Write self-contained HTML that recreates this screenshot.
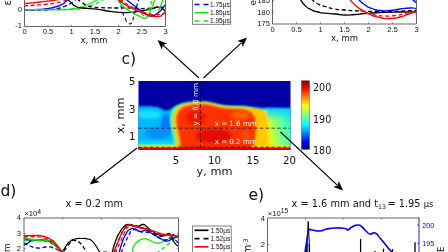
<!DOCTYPE html>
<html><head><meta charset="utf-8"><title>figure</title>
<style>
html,body{margin:0;padding:0;background:#fff;overflow:hidden}
svg{display:block}
.h{font-family:"Liberation Sans",sans-serif;font-size:7.6px;fill:#111}
.d{font-family:"DejaVu Sans","Liberation Sans",sans-serif;fill:#111}
</style></head><body>
<svg width="448" height="252" viewBox="0 0 448 252">
<defs>
<clipPath id="ca"><rect x="24.5" y="0" width="141" height="26.5"/></clipPath>
<clipPath id="cb"><rect x="272.5" y="0" width="144" height="24"/></clipPath>
<clipPath id="cd"><rect x="24" y="218" width="154.5" height="40"/></clipPath>
<clipPath id="ce"><rect x="267.5" y="218" width="151.5" height="40"/></clipPath>
<clipPath id="ch"><rect x="138.5" y="81" width="152" height="69"/></clipPath>
<filter id="bl" x="-20%" y="-20%" width="140%" height="140%"><feGaussianBlur stdDeviation="1.6"/></filter>
<filter id="bl2" x="-20%" y="-20%" width="140%" height="140%"><feGaussianBlur stdDeviation="1.3"/></filter>
<filter id="bl4" x="-20%" y="-20%" width="140%" height="140%"><feGaussianBlur stdDeviation="1.8"/></filter>
<filter id="bl5" x="-20%" y="-20%" width="140%" height="140%"><feGaussianBlur stdDeviation="1"/></filter>
<filter id="bl3" x="-20%" y="-50%" width="140%" height="200%"><feGaussianBlur stdDeviation="0.5"/></filter>
<linearGradient id="gr" gradientUnits="userSpaceOnUse" x1="261" y1="143" x2="296.5" y2="134.6">
<stop offset="0" stop-color="#ffa800"/>
<stop offset="0.2" stop-color="#ffe400"/>
<stop offset="0.36" stop-color="#c8ff38"/>
<stop offset="0.52" stop-color="#88ff78"/>
<stop offset="0.7" stop-color="#60ffa0"/>
<stop offset="0.86" stop-color="#38f4c8"/>
<stop offset="1" stop-color="#18dcf4"/>
</linearGradient>
<linearGradient id="gc" gradientUnits="userSpaceOnUse" x1="0" y1="108" x2="0" y2="121">
<stop offset="0" stop-color="#10d0ff" stop-opacity="1"/>
<stop offset="0.4" stop-color="#10d8ff" stop-opacity="0.7"/>
<stop offset="1" stop-color="#20e0f0" stop-opacity="0"/>
</linearGradient>
<linearGradient id="jet" x1="0" y1="1" x2="0" y2="0">
<stop offset="0" stop-color="#00008f"/>
<stop offset="0.11" stop-color="#0000ff"/>
<stop offset="0.36" stop-color="#00ffff"/>
<stop offset="0.5" stop-color="#80ff80"/>
<stop offset="0.64" stop-color="#ffff00"/>
<stop offset="0.89" stop-color="#ff0000"/>
<stop offset="1" stop-color="#800000"/>
</linearGradient>
</defs>
<rect width="448" height="252" fill="#fff"/>
<g clip-path="url(#ca)" fill="none"><path d="M24,3.6 C27.7,3.3 28,3.3 35,2.6 C42,1.9 38.3,2.2 45,1.4 C51.7,0.6 50,1 55,0.2 C60,-0.6 58.3,-0.6 60,-1" stroke="#f00" stroke-width="1.3"/><path d="M24,5.9 C27.7,5.7 28,5.7 35,5.2 C42,4.7 38.3,5.2 45,4.5 C51.7,3.8 49.3,4.2 55,3.2 C60.7,2.2 57.7,3 62,1.6 C66.3,0.2 66,-0.1 68,-1" stroke="#f00" stroke-width="1.3" stroke-dasharray="4 2.6"/><path d="M24,9.8 C27.7,9.7 28,9.9 35,9.6 C42,9.3 38.3,9.9 45,9 C51.7,8.1 49.3,8.6 55,7 C60.7,5.4 58.3,6.1 62,4.3 C65.7,2.5 64,3.3 66,1.5 C68,-0.3 67.3,-0.2 68,-1" stroke="#00f" stroke-width="1.3"/><path d="M24,9.9 C27.7,9.9 28,10 35,10 C42,10 37.3,10.5 45,10 C52.7,9.5 51.3,9.8 58,8.5 C64.7,7.2 60.3,8.2 65,6.2 C69.7,4.2 68.3,4.9 72,2.5 C75.7,0.1 74.7,0.2 76,-1" stroke="#00f" stroke-width="1.3" stroke-dasharray="4 2.6"/><path d="M24,9.5 C31,9.5 33,9.6 45,9.6 C57,9.6 50,9.9 60,9.5 C70,9.1 66.7,9.8 75,8.5 C83.3,7.2 78.3,8 85,5.5 C91.7,3 90.7,3.2 95,1 C99.3,-1.2 97,-0.3 98,-1" stroke="#00ee00" stroke-width="1.3"/><path d="M24,9.6 C32.7,9.6 34.7,9.7 50,9.7 C65.3,9.7 59.3,10.1 70,9.6 C80.7,9.1 74.7,9.7 82,8.2 C89.3,6.7 86,7.2 92,5 C98,2.8 96,3.5 100,1.5 C104,-0.5 102.7,-0.2 104,-1" stroke="#00ee00" stroke-width="1.3" stroke-dasharray="4 2.6"/><path d="M67,-1 C68.7,0.5 69,1 72,3.5 C75,6 72.7,5 76,6.5 C79.3,8 77.3,7.3 82,8 C86.7,8.7 84,8.1 90,8.6 C96,9.1 93.3,8.7 100,9.6 C106.7,10.5 103.3,10.5 110,11.4 C116.7,12.3 113.3,12.1 120,12.4 C126.7,12.7 123.3,12.9 130,12.4 C136.7,11.9 133.3,12.1 140,11 C146.7,9.9 144,10.5 150,9.2 C156,7.9 154,7.4 158,7.2 C162,7 159.7,7.2 162,8.5 C164.3,9.8 164,10.2 165,11" stroke="#000" stroke-width="1.3"/><path d="M77,-1 C78.7,0.2 79,0.5 82,2.5 C85,4.5 82.7,3.5 86,5 C89.3,6.5 87.3,6.1 92,7 C96.7,7.9 92.3,7.3 100,7.6 C107.7,7.9 105,7.9 115,8 C125,8.1 120,7.8 130,8 C140,8.2 136.7,8.7 145,8.5 C153.3,8.3 150,8.2 155,7.5 C160,6.8 156.7,6 160,6.5 C163.3,7 163.3,8.2 165,9" stroke="#000" stroke-width="1.3" stroke-dasharray="4 2.6"/><path d="M117,-1 C118.7,1 118.3,1.3 122,5 C125.7,8.7 124.3,7.3 128,10 C131.7,12.7 129,10.8 133,13 C137,15.2 135.7,14.8 140,16.5 C144.3,18.2 142.7,19.5 146,18 C149.3,16.5 147,18.3 150,12 C153,5.7 153.3,3.3 155,-1" stroke="#00ee00" stroke-width="1.3"/><path d="M119,-1 C121,0.8 120.7,1.3 125,4.5 C129.3,7.7 127,5.8 132,8.5 C137,11.2 135.3,9.8 140,12.5 C144.7,15.2 143,17.3 146,16.5 C149,15.7 147,15.8 149,10 C151,4.2 151,2.7 152,-1" stroke="#00ee00" stroke-width="1.3" stroke-dasharray="4 2.6"/><path d="M158,12 C159,9.7 159.3,9.3 161,5 C162.7,0.7 162.3,1 163,-1" stroke="#00ee00" stroke-width="1.3"/><path d="M119.5,-1 C120.3,2.7 120.2,3.7 122,10 C123.8,16.3 123,13.8 125,18 C127,22.2 125.7,21 128,22.5 C130.3,24 130,25 132,22.5 C134,20 132.3,20.8 134,15 C135.7,9.2 135.3,10.3 137,5 C138.7,-0.3 138.3,1 139,-1" stroke="#00f" stroke-width="1.2" stroke-dasharray="4 2.6"/><path d="M125.7,-1 C127.8,0.7 127.2,0.3 132,4 C136.8,7.7 134.7,6.3 140,10 C145.3,13.7 144,13 148,15 C152,17 148.7,16.7 152,16 C155.3,15.3 154.7,15.3 158,13 C161.3,10.7 159.7,11.7 162,9 C164.3,6.3 164,6.3 165,5" stroke="#00f" stroke-width="1.3"/><path d="M118,-1 C120,0.7 119.3,1 124,4 C128.7,7 126.7,5.3 132,8 C137.3,10.7 134,9.5 140,12 C146,14.5 144,14 150,15.5 C156,17 154,16.7 158,16.5 C162,16.3 159.7,16.5 162,15 C164.3,13.5 164,13 165,12" stroke="#f00" stroke-width="1.3"/><path d="M120,-1 C123.3,1.3 123.3,2.2 130,6 C136.7,9.8 133.3,7.8 140,10.5 C146.7,13.2 144,12.7 150,14 C156,15.3 153,14.8 158,14.5 C163,14.2 162.7,13.5 165,13" stroke="#f00" stroke-width="1.3" stroke-dasharray="4 2.6"/></g>
<path d="M24.5,0V26.5H165.5V0" fill="none" stroke="#666" stroke-width="1"/>
<path d="M24.5,26.5v-1.6M48,26.5v-1.6M71.5,26.5v-1.6M95,26.5v-1.6M118.5,26.5v-1.6M142,26.5v-1.6M165.5,26.5v-1.6M24.5,9.5h1.6M165.5,9.5h-1.6" stroke="#666" stroke-width="0.8" fill="none"/>
<text class="h" x="24.5" y="34" text-anchor="middle">0</text>
<text class="h" x="48" y="34" text-anchor="middle">0.5</text>
<text class="h" x="71.5" y="34" text-anchor="middle">1</text>
<text class="h" x="95" y="34" text-anchor="middle">1.5</text>
<text class="h" x="118.5" y="34" text-anchor="middle">2</text>
<text class="h" x="142" y="34" text-anchor="middle">2.5</text>
<text class="h" x="165.5" y="34" text-anchor="middle">3</text>
<text class="h" x="22" y="11.8" text-anchor="end">0</text>
<text class="h" x="22" y="28.2" text-anchor="end">-1</text>
<text class="d" x="94" y="43" text-anchor="middle" font-size="8.5">x, mm</text>
<text class="d" transform="translate(11,5.5) rotate(-90)" font-size="10">ε</text>
<rect x="192.5" y="-3" width="38" height="27.3" fill="#fff" stroke="#777" stroke-width="0.9"/>
<path d="M194.5,4.5H208.5" stroke="#00f" stroke-width="1.5" stroke-dasharray="5 4"/>
<text class="h" style="font-size:6.5px" x="210" y="6.8">1.75μs</text>
<path d="M194.5,12.7H208.5" stroke="#00ee00" stroke-width="1.5"/>
<text class="h" style="font-size:6.5px" x="210" y="15">1.85μs</text>
<path d="M194.5,21H208.5" stroke="#00ee00" stroke-width="1.5" stroke-dasharray="5 4"/>
<text class="h" style="font-size:6.5px" x="210" y="23.3">1.95μs</text>
<g clip-path="url(#cb)" fill="none"><path d="M300,-1 C301.7,1.2 301.3,2 305,5.5 C308.7,9 306.7,7.3 311,9.5 C315.3,11.7 313.3,10.8 318,12 C322.7,13.2 319.3,12.5 325,13.2 C330.7,13.9 328.3,13.4 335,14 C341.7,14.6 338.3,14.8 345,15 C351.7,15.2 348.3,15 355,14.5 C361.7,14 356.7,14.2 365,13.5 C373.3,12.8 368.3,13 380,12.5 C391.7,12 388,12.2 400,12 C412,11.8 410.7,12 416,12" stroke="#000" stroke-width="1.3"/><path d="M311.4,-1 C313.6,0.7 313.5,1.5 318,4 C322.5,6.5 319.3,4.8 325,6.5 C330.7,8.2 328.3,7.8 335,9 C341.7,10.2 336.7,9.3 345,10 C353.3,10.7 350,10.5 360,11 C370,11.5 365,11.3 375,11.5 C385,11.7 380,11.7 390,11.5 C400,11.3 396.3,11.3 405,11 C413.7,10.7 412.3,10.7 416,10.5" stroke="#000" stroke-width="1.3" stroke-dasharray="4 2.6"/><path d="M349.6,-1 C351.4,1 350.9,1.3 355,5 C359.1,8.7 357,6.8 362,10 C367,13.2 364,12 370,14.5 C376,17 373.3,16.2 380,17.5 C386.7,18.8 383.3,18.7 390,18.5 C396.7,18.3 393.3,18.7 400,17 C406.7,15.3 404.7,15 410,13.5 C415.3,12 414,12.8 416,12.5" stroke="#f00" stroke-width="1.3"/><path d="M360,10 C362.3,11 362,11.3 367,13 C372,14.7 369,14 375,15 C381,16 378.3,15.8 385,16 C391.7,16.2 388.3,16.3 395,15.5 C401.7,14.7 398,15 405,13.5 C412,12 412.3,11.8 416,11" stroke="#f00" stroke-width="1.3" stroke-dasharray="4 2.6"/><path d="M358,-1 C360.3,1 360.3,1.8 365,5 C369.7,8.2 367,6.7 372,8.5 C377,10.3 374,9.8 380,10.5 C386,11.2 383.3,11 390,10.5 C396.7,10 393.3,9.8 400,9 C406.7,8.2 404.7,8.2 410,8 C415.3,7.8 414,8.3 416,8.5" stroke="#00f" stroke-width="1.3"/><path d="M412,-1 C412.7,-0.3 412.7,-0.2 414,1 C415.3,2.2 415.3,2 416,2.5" stroke="#00f" stroke-width="1.3"/></g>
<path d="M272.5,0V24H416.5V0" fill="none" stroke="#666" stroke-width="1"/>
<path d="M272.5,24v-1.6M296.5,24v-1.6M320.5,24v-1.6M344.5,24v-1.6M368.5,24v-1.6M392.5,24v-1.6M416.5,24v-1.6M272.5,12.2h1.6M416.5,12.2h-1.6M272.5,0.5h1.6M416.5,0.5h-1.6" stroke="#666" stroke-width="0.8" fill="none"/>
<text class="h" x="272.5" y="31.5" text-anchor="middle">0</text>
<text class="h" x="296.5" y="31.5" text-anchor="middle">0.5</text>
<text class="h" x="320.5" y="31.5" text-anchor="middle">1</text>
<text class="h" x="344.5" y="31.5" text-anchor="middle">1.5</text>
<text class="h" x="368.5" y="31.5" text-anchor="middle">2</text>
<text class="h" x="392.5" y="31.5" text-anchor="middle">2.5</text>
<text class="h" x="416.5" y="31.5" text-anchor="middle">3</text>
<text class="h" x="270" y="3" text-anchor="end">185</text>
<text class="h" x="270" y="14.5" text-anchor="end">180</text>
<text class="h" x="270" y="26.2" text-anchor="end">175</text>
<text class="d" x="344.5" y="41" text-anchor="middle" font-size="8.5">x, mm</text>
<text class="d" transform="translate(256,5.5) rotate(-90)" font-size="9">e,</text>
<text class="d" x="121.5" y="64" font-size="15.5">c)</text>
<text class="d" x="0.5" y="195.5" font-size="15.5">d)</text>
<text class="d" x="248.5" y="200" font-size="15.5">e)</text>
<g clip-path="url(#ch)">
<rect x="138" y="81" width="153" height="69" fill="#0000a4"/>
<g filter="url(#bl5)">
<path d="M130,107 C150,105.5 158,106 162,109 C166,112.5 170,109.5 176,106.5 L240,106.5 C262,107.5 275,109 300,109 L300,160 L130,160Z" fill="#00b8ff"/>
</g>
<g filter="url(#bl)">
<ellipse cx="149" cy="114.5" rx="12" ry="4.5" fill="#18e0ff"/>
<ellipse cx="166.5" cy="125" rx="5.5" ry="11" fill="#0078ff"/>
<ellipse cx="158" cy="133" rx="13" ry="6" fill="#0090ff"/>
<rect x="134" y="141" width="40" height="5" fill="#10d8ff"/>
<rect x="256" y="110" width="44" height="45" fill="url(#gr)"/>
<rect x="266" y="108.5" width="40" height="16" fill="url(#gc)"/>
</g>
<g filter="url(#bl2)">
<path d="M172.5,150 C175,143 173,136 171,128 C169.5,122 169.5,117 171.5,111.5 C174,102.5 190,101 206,101.5 C214,102.5 222,106 232,106 C246,106 252,106.5 256,112 L256,150Z" fill="#60ffa0"/>
</g>
<g filter="url(#bl5)">
<path d="M175.5,150 C178,143 176,136 174,128 C172.5,122 172.5,117 174.5,112 C177,103 192,102 206,102.5 C214,103.5 222,107 232,107 C250,107 261,107.5 265,113.5 C269,120 268,135 267,150Z" fill="#ffc800"/>
</g>
<g filter="url(#bl2)">
<path d="M179.5,150 C181.5,143 179.5,136 177.5,128 C176,122 176,117 178,113 C180.5,105 194,104 206,104.5 C214,105.5 222,109 232,109 C244,109 251,110 254,116 C257,123 256,136 253,150Z" fill="#ff3000"/>
</g>
<g filter="url(#bl)">
<ellipse cx="214" cy="136" rx="18" ry="7" fill="#e00c00"/>
<ellipse cx="196" cy="117" rx="10" ry="7" fill="#f01800"/>
<ellipse cx="240" cy="115" rx="10" ry="4" fill="#ff6000"/>
<ellipse cx="246" cy="136" rx="5" ry="6" fill="#ff4800"/>
</g>
<g filter="url(#bl3)">
<rect x="130" y="144.3" width="45" height="1.5" fill="#80ff80" opacity="0.8"/>
<rect x="130" y="145.5" width="47" height="2.2" fill="#ffd800"/>
<rect x="177" y="145.5" width="4" height="2.2" fill="#ff9000"/>
<rect x="181" y="145.5" width="70" height="2.2" fill="#f82800"/>
<rect x="251" y="145.5" width="6" height="2.2" fill="#ff9000"/>
<rect x="257" y="145.5" width="43" height="2.2" fill="#ffd800"/>
<rect x="130" y="147.6" width="170" height="6" fill="#d80000"/>
</g>
</g>
<path d="M138,128.2H290" stroke="#222" stroke-width="0.8" stroke-dasharray="3.6 2.2" fill="none"/>
<path d="M138,147.3H290" stroke="#222" stroke-width="0.9" stroke-dasharray="3.6 2.2" fill="none"/>
<path d="M200.5,81V150" stroke="#111" stroke-width="0.9" stroke-dasharray="3.6 2.2" fill="none"/>
<text class="d" x="214.7" y="125.5" font-size="7.1" style="fill:#fff">x = 1.6 mm</text>
<text class="d" x="214.7" y="144" font-size="7.1" style="fill:#fff">x = 0.2 mm</text>
<text class="d" transform="translate(198.3,125.5) rotate(-90)" font-size="7.2" style="fill:#fff">y = 8.0 mm</text>
<text class="d" x="176" y="164.2" font-size="10.2" text-anchor="middle">5</text>
<text class="d" x="214.5" y="164.2" font-size="10.2" text-anchor="middle">10</text>
<text class="d" x="253" y="164.2" font-size="10.2" text-anchor="middle">15</text>
<text class="d" x="289.5" y="164.2" font-size="10.2" text-anchor="middle">20</text>
<text class="d" x="135.5" y="85.2" font-size="10.2" text-anchor="end">5</text>
<text class="d" x="135.5" y="112.7" font-size="10.2" text-anchor="end">3</text>
<text class="d" x="135.5" y="140.2" font-size="10.2" text-anchor="end">1</text>
<text class="d" x="214.5" y="175" font-size="11.3" text-anchor="middle">y, mm</text>
<text class="d" transform="translate(124.4,115.5) rotate(-90)" font-size="11.3" text-anchor="middle">x, mm</text>
<rect x="301.5" y="80.8" width="8" height="68.6" fill="url(#jet)" stroke="#333" stroke-width="0.4"/>
<text class="d" x="313" y="90.8" font-size="9.6">200</text>
<text class="d" x="313" y="122.8" font-size="9.6">190</text>
<text class="d" x="313" y="153.7" font-size="9.6">180</text>
<path d="M199,78L163,45.1" stroke="#000" stroke-width="1.15" fill="none"/><path d="M157.5,40L167.2,43.5L162.9,44.9L161.8,49.4Z" fill="#000"/>
<path d="M203.5,78L241.5,42.6" stroke="#000" stroke-width="1.15" fill="none"/><path d="M247,37.5L242.8,46.9L241.7,42.5L237.3,41Z" fill="#000"/>
<path d="M137,148L95.6,180" stroke="#000" stroke-width="1.15" fill="none"/><path d="M89.7,184.6L94.8,175.6L95.5,180.1L99.7,181.9Z" fill="#000"/>
<path d="M280.5,132L337.5,185.4" stroke="#000" stroke-width="1.15" fill="none"/><path d="M343,190.5L333.3,186.9L337.7,185.5L338.8,181.1Z" fill="#000"/>
<g clip-path="url(#cd)" fill="none"><path d="M24,245 C25.3,244.3 25.3,244.5 28,243 C30.7,241.5 28,241.5 32,240.5 C36,239.5 34.7,239.8 40,240 C45.3,240.2 43.3,239.5 48,241 C52.7,242.5 50,241.5 54,244.5 C58,247.5 57.3,247.2 60,250 C62.7,252.8 61.3,252 62,253" stroke="#000" stroke-width="1.3"/><path d="M62,253 C63.3,250.7 63.3,249.8 66,246 C68.7,242.2 67,243.8 70,241.5 C73,239.2 71,240 75,239 C79,238 77.7,238.5 82,238.5 C86.3,238.5 84.7,238.2 88,239 C91.3,239.8 89.3,238.7 92,241 C94.7,243.3 93.3,242 96,246 C98.7,250 98.7,250.7 100,253" stroke="#000" stroke-width="1.2"/><path d="M24,240.5 C26,240.3 24.7,240.1 30,240 C35.3,239.9 33.3,239.6 40,240.3 C46.7,241 44,239.4 50,242 C56,244.6 54,244.3 58,248 C62,251.7 60.7,251.3 62,253" stroke="#000" stroke-width="1.3" stroke-dasharray="4 2.6"/><path d="M64,251 C66,248.3 66.3,246.5 70,243 C73.7,239.5 71.7,240.5 75,240.5 C78.3,240.5 77,240.5 80,243 C83,245.5 81.7,244.7 84,248 C86.3,251.3 86,251.3 87,253" stroke="#000" stroke-width="1.3" stroke-dasharray="4 2.6"/><path d="M24,242.7 C26,243.8 25.3,244.2 30,246 C34.7,247.8 32.7,247.7 38,248 C43.3,248.3 41.3,247.2 46,247 C50.7,246.8 48,246.5 52,247.5 C56,248.5 54.7,248.2 58,250 C61.3,251.8 60.7,252 62,253" stroke="#00f" stroke-width="1.3" stroke-dasharray="4 2.6"/><path d="M24,238 C26,238.7 23,239.3 30,240 C37,240.7 37.7,239.3 45,240 C52.3,240.7 47.7,239.7 52,242 C56.3,244.3 54.3,243.3 58,247 C61.7,250.7 61.3,251 63,253" stroke="#00f" stroke-width="1.3"/><path d="M24,237 C26,237.7 24.7,238 30,239 C35.3,240 34,239.5 40,240 C46,240.5 43.3,239.2 48,240.5 C52.7,241.8 50,240.8 54,244 C58,247.2 57.3,247 60,250 C62.7,253 61.3,252 62,253" stroke="#00ee00" stroke-width="1.3"/><path d="M24,240 C26,240.3 24.7,240.7 30,241 C35.3,241.3 33.3,240.3 40,241 C46.7,241.7 44,240.3 50,243 C56,245.7 54.3,245.7 58,249 C61.7,252.3 60,251.7 61,253" stroke="#00ee00" stroke-width="1.3" stroke-dasharray="4 2.6"/><path d="M24,235.6 C27.7,235.6 29,235.4 35,235.5 C41,235.6 37,234.8 42,236 C47,237.2 45.3,236.3 50,239 C54.7,241.7 52,239.3 56,244 C60,248.7 60,250 62,253" stroke="#f00" stroke-width="1.3"/><path d="M24,236.5 C27.7,236.6 28.3,236.3 35,236.8 C41.7,237.3 38.3,236.3 44,238 C49.7,239.7 47.3,238.7 52,242 C56.7,245.3 55,244.3 58,248 C61,251.7 60,251.3 61,253" stroke="#f00" stroke-width="1.3" stroke-dasharray="4 2.6"/><path d="M132.4,253 C132.9,250.7 132.1,249.8 134,246 C135.9,242.2 135,243.8 138,241.5 C141,239.2 139.7,239.7 143,239 C146.3,238.3 144.7,238.5 148,239.5 C151.3,240.5 149.7,240.8 153,242 C156.3,243.2 154.7,243.2 158,243 C161.3,242.8 159.7,242.8 163,241.5 C166.3,240.2 164.3,240.5 168,239 C171.7,237.5 170.7,238.2 174,237 C177.3,235.8 176.7,236 178,235.5" stroke="#00ee00" stroke-width="1.3"/><path d="M156,253 C157.7,252 157.7,252.3 161,250 C164.3,247.7 162.3,249 166,246 C169.7,243 168,244.2 172,241 C176,237.8 176,238 178,236.5" stroke="#00ee00" stroke-width="1.3" stroke-dasharray="4 2.6"/><path d="M119,253 C120,249.7 119.7,249.3 122,243 C124.3,236.7 123.3,238.5 126,234 C128.7,229.5 127,231.2 130,229.5 C133,227.8 131.7,228.3 135,229 C138.3,229.7 136.3,231 140,231.5 C143.7,232 142,229.8 146,230.5 C150,231.2 147.3,231 152,233.5 C156.7,236 155.3,235.5 160,238 C164.7,240.5 162,240.7 166,241 C170,241.3 168,240.5 172,239 C176,237.5 176,237.3 178,236.5" stroke="#00f" stroke-width="1.3"/><path d="M121,253 C122.3,249.7 122.3,249 125,243 C127.7,237 126.7,239.2 129,235 C131.3,230.8 129.3,232.2 132,230.5 C134.7,228.8 133.7,229.5 137,230 C140.3,230.5 137.7,231 142,232 C146.3,233 144.7,231.2 150,233 C155.3,234.8 153,235.2 158,237.5 C163,239.8 161,239.8 165,240 C169,240.2 166.7,238 170,238 C173.3,238 172.3,238.3 175,240 C177.7,241.7 177,242 178,243" stroke="#00f" stroke-width="1.3" stroke-dasharray="4 2.6"/><path d="M112,253 C113.3,248.7 113.3,247 116,240 C118.7,233 117.3,236.5 120,232 C122.7,227.5 121.3,229 124,226.5 C126.7,224 125,224.7 128,224.5 C131,224.3 129.7,225.3 133,226 C136.3,226.7 134.7,227 138,226.5 C141.3,226 140,224.3 143,224.5 C146,224.7 144,224.8 147,227 C150,229.2 148.3,228.5 152,231 C155.7,233.5 153.7,233 158,234.5 C162.3,236 161,235.7 165,235.5 C169,235.3 167,231.8 170,234 C173,236.2 171.3,238 174,242 C176.7,246 176.7,244.7 178,246" stroke="#000" stroke-width="1.3"/><path d="M114,253 C116,247.7 116.3,245.3 120,237 C123.7,228.7 121.7,232 125,228 C128.3,224 125,225.3 130,225 C135,224.7 133.3,225 140,227 C146.7,229 143.3,228 150,231 C156.7,234 153.3,235 160,236 C166.7,237 164,233.3 170,234 C176,234.7 175.3,236.7 178,238" stroke="#000" stroke-width="1.3" stroke-dasharray="4 2.6"/><path d="M113.5,253 C115,249.3 115.2,248.7 118,242 C120.8,235.3 119.3,238 122,233 C124.7,228 123.3,229.7 126,227 C128.7,224.3 126.7,225.2 130,225 C133.3,224.8 131,225.3 136,226.5 C141,227.7 138.7,226.8 145,228.5 C151.3,230.2 148.3,229.5 155,231.5 C161.7,233.5 157.3,233 165,234.5 C172.7,236 173.7,235.5 178,236" stroke="#f00" stroke-width="1.3"/><path d="M115,253 C116.7,249.7 116.7,250 120,243 C123.3,236 121.7,237.5 125,232 C128.3,226.5 125,227.8 130,226.5 C135,225.2 133.3,226.8 140,228 C146.7,229.2 143.3,228 150,230 C156.7,232 150.7,231.7 160,234 C169.3,236.3 172,236 178,237" stroke="#f00" stroke-width="1.3" stroke-dasharray="4 2.6"/><path d="M103,251.8H107" stroke="#f00" stroke-width="0.9"/></g>
<path d="M24,253V218H178.5V253" fill="none" stroke="#666" stroke-width="1"/>
<path d="M24,218v1.6M62.6,218v1.6M101.3,218v1.6M139.9,218v1.6M178.6,218v1.6M24,233.5h1.6M24,248.5h1.6M178.5,233.5h-1.6M178.5,248.5h-1.6" stroke="#666" stroke-width="0.8" fill="none"/>
<text class="h" x="21" y="220.4" text-anchor="end">4</text>
<text class="h" x="21" y="236.1" text-anchor="end">3</text>
<text class="h" x="21" y="250.79999999999998" text-anchor="end">2</text>
<text class="h" style="font-size:7.6px" x="24.3" y="216.2">×10<tspan dy="-2.6" font-size="6.8">4</tspan></text>
<text class="d" transform="translate(10.3,243.5) rotate(-90)" font-size="8.8" text-anchor="end">V/m</text>
<text class="d" x="94.3" y="206.7" font-size="9.7" text-anchor="middle">x = 0.2 mm</text>
<rect x="192.5" y="226" width="38.7" height="30" fill="#fff" stroke="#777" stroke-width="0.9"/>
<path d="M194.5,230.3H208.5" stroke="#000" stroke-width="1.7"/>
<text class="h" style="font-size:6.5px" x="210.5" y="232.60000000000002">1.50μs</text>
<path d="M194.5,238.6H208.5" stroke="#000" stroke-width="1.7" stroke-dasharray="5 4"/>
<text class="h" style="font-size:6.5px" x="210.5" y="240.9">1.52μs</text>
<path d="M194.5,246.8H208.5" stroke="#f00" stroke-width="1.7"/>
<text class="h" style="font-size:6.5px" x="210.5" y="249.10000000000002">1.55μs</text>
<g clip-path="url(#ce)" fill="none"><path d="M306.5,253L307.5,236L308.2,221.5L309,238L309.8,253M307.2,253V243M309.2,253V244" stroke="#000" stroke-width="1"/><path d="M360.6,253V239M383.5,253V248.8M392.5,253V249M415,253V242.2M375,253V251" stroke="#000" stroke-width="1.3"/><path d="M304.8,253 C305.4,249.7 305.4,249.7 306.5,243 C307.6,236.3 307,237.5 308,233 C309,228.5 308.2,230.5 309.5,229.5 C310.8,228.5 308.5,229.5 312,230 C315.5,230.5 315.3,231.2 320,231 C324.7,230.8 321,230.3 326,229.3 C331,228.3 328.7,228.3 335,228 C341.3,227.7 340.7,227.8 345,228.5 C349.3,229.2 345.7,230.5 348,230 C350.3,229.5 348.7,228.7 352,227 C355.3,225.3 354.7,225 358,225 C361.3,225 359.3,225 362,227 C364.7,229 363.3,228.7 366,231 C368.7,233.3 367,233.3 370,234 C373,234.7 371.7,231.7 375,233 C378.3,234.3 376.7,234.3 380,238 C383.3,241.7 381.7,240 385,244 C388.3,248 387.3,247 390,250 C392.7,253 392,252 393,253" stroke="#00f" stroke-width="1.6"/></g>
<path d="M267.5,253V218H419" fill="none" stroke="#666" stroke-width="1"/>
<path d="M419,217.5V253" fill="none" stroke="#22f" stroke-width="1"/>
<path d="M267.5,218v1.6M305.4,218v1.6M343.3,218v1.6M381.2,218v1.6M419.1,218v1.6M267.5,244.5h1.6" stroke="#666" stroke-width="0.8" fill="none"/>
<path d="M419,225h-1.8M419,243h-1.8" stroke="#22f" stroke-width="0.8" fill="none"/>
<text class="h" x="265" y="220.6" text-anchor="end">4</text>
<text class="h" x="265" y="246.9" text-anchor="end">2</text>
<text class="h" style="font-size:7.6px" x="267.8" y="216">×10<tspan dy="-2.6" font-size="6.8">15</tspan></text>
<text class="h" x="422.3" y="227.5" style="font-size:7.2px;fill:#00f">200</text>
<text class="h" x="422.3" y="245.5" style="font-size:7.2px;fill:#00f">195</text>
<text class="d" transform="translate(251,254.5) rotate(-90)" font-size="10">m<tspan dy="-3.5" font-size="6.5">-3</tspan></text>
<text class="d" transform="translate(444.2,252) rotate(-90)" font-size="8.6">E</text>
<text class="d" x="291.5" y="207" font-size="9.8">x = 1.6 mm and t<tspan dy="2.2" font-size="6.2">13</tspan><tspan dy="-2.2" dx="-1.6"> = 1.95 </tspan><tspan font-size="8.4">μs</tspan></text>
</svg>
</body></html>
